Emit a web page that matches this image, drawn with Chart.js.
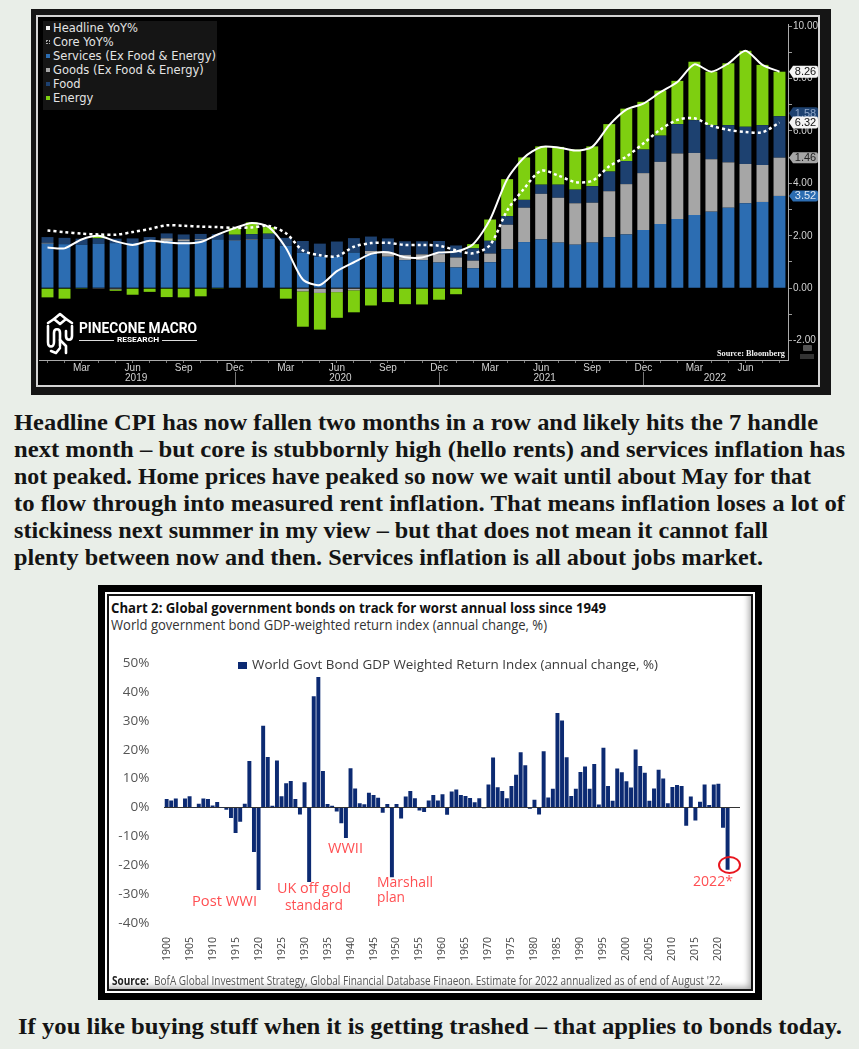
<!DOCTYPE html>
<html>
<head>
<meta charset="utf-8">
<script src="https://cdn.jsdelivr.net/npm/chart.js@4.4.0/dist/chart.umd.min.js"></script>
<style>
  body { margin:0; width:859px; height:1049px; background:#e9eee8; position:relative; overflow:hidden; }
  .abs { position:absolute; }
  .fit { display:inline-block; white-space:nowrap; transform-origin:0 50%; }
  #cpiOuter { left:31px; top:9px; width:800px; height:386px; background:#151515; }
  #cpiBorder { left:36px; top:15px; width:784px; height:372px; box-sizing:border-box; border:2px solid #d4d4d4; background:#000; }
  #cpiLegend { left:43px; top:21px; width:174px; height:89px; background:#151515; font:11.5px 'DejaVu Sans', sans-serif; color:#e4e4e4; line-height:14px; }
  #cpiLegend div { position:relative; padding-left:10px; height:14px; }
  #cpiLegend i { position:absolute; left:3px; top:5px; width:4px; height:4px; }
  .para { left:14px; font:bold 24px 'Liberation Serif', serif; line-height:27px; color:#141414; }
  #bofaOuter { left:98px; top:585px; width:664px; height:415px; background:#000; }
  #bofaRing { left:105px; top:592px; width:650px; height:401px; background:#fff; }
  #bofaInner { left:107px; top:594px; width:646px; height:397px; box-sizing:border-box; border:2px solid #151515; background:#fff; box-shadow: inset -5px -5px 6px -3px rgba(0,0,0,0.35); }
  .bofa { font-family:'Open Sans', sans-serif; line-height:1; }
  .note { font-family:'Open Sans', sans-serif; font-size:14.5px; line-height:1; color:#ff4f52; }
</style>
</head>
<body>

<!-- Chart 1: CPI contributions -->
<div id="cpiOuter" class="abs"></div>
<div id="cpiBorder" class="abs"></div>
<canvas id="cpiChart" class="abs" style="left:38px;top:17px" width="780" height="368"></canvas>

<div id="cpiLegend" class="abs">
  <div><i style="background:#f0f0f0"></i>Headline YoY%</div>
  <div><i style="border:1px dotted #aaa;width:2px;height:2px"></i>Core YoY%</div>
  <div><i style="background:#2c6db2"></i>Services (Ex Food &amp; Energy)</div>
  <div><i style="background:#a6a6a6"></i>Goods (Ex Food &amp; Energy)</div>
  <div><i style="background:#1d4170"></i>Food</div>
  <div><i style="background:#7ecf10"></i>Energy</div>
</div>

<svg class="abs" style="left:44px;top:311px" width="32" height="45" viewBox="0 0 32 45">
  <g fill="none" stroke="#fff" stroke-width="2.6" stroke-linejoin="round" stroke-linecap="round">
    <path d="M16 3 L22 8 L16 13 L10 8 Z"/>
    <path d="M4 12 L10 8 M28 12 L22 8"/>
    <path d="M4 15 L4 31 C4 37 10 37 10 31 L10 22 C10 17 16 17 16 22 L16 35"/>
    <path d="M28 15 L28 25 C28 30 22 30 22 25 L22 20"/>
    <path d="M16 29 L22 35 L22 42 M16 37 L12 42 L7 40"/>
  </g>
</svg>
<div class="abs" style="left:79px;top:321px;font:bold 14px Roboto,sans-serif;line-height:1;color:#fff"><span class="fit" data-fit="118">PINECONE MACRO</span></div>
<div class="abs" style="left:79px;top:340px;width:35px;height:1px;background:#ddd"></div>
<div class="abs" style="left:162px;top:340px;width:35px;height:1px;background:#ddd"></div>
<div class="abs" style="left:117px;top:336px;font:bold 8px Roboto,sans-serif;line-height:1;color:#fff"><span class="fit" data-fit="42">RESEARCH</span></div>
<div class="abs" style="left:717px;top:349px;font:bold 9px 'Liberation Serif',serif;line-height:1;color:#f2f2f2"><span class="fit" data-fit="68">Source: Bloomberg</span></div>
<div class="abs" style="left:803px;top:345px;width:9px;height:6px;background:#555;border-radius:1px"></div>
<div class="abs" style="left:800px;top:354px;width:14px;height:5px;background:#333"></div>

<!-- Commentary -->
<div class="abs para" style="top:409px">
  <div><span class="fit" data-fit="804">Headline CPI has now fallen two months in a row and likely hits the 7 handle</span></div>
  <div><span class="fit" data-fit="831">next month – but core is stubbornly high (hello rents) and services inflation has</span></div>
  <div><span class="fit" data-fit="797">not peaked. Home prices have peaked so now we wait until about May for that</span></div>
  <div><span class="fit" data-fit="831">to flow through into measured rent inflation. That means inflation loses a lot of</span></div>
  <div><span class="fit" data-fit="754">stickiness next summer in my view – but that does not mean it cannot fall</span></div>
  <div><span class="fit" data-fit="749">plenty between now and then. Services inflation is all about jobs market.</span></div>
</div>

<!-- Chart 2: global government bonds -->
<div id="bofaOuter" class="abs"></div>
<div id="bofaRing" class="abs"></div>
<div id="bofaInner" class="abs"></div>
<div class="abs bofa" style="left:111px;top:601px;font-size:14px;font-weight:bold;color:#111"><span class="fit" data-fit="495">Chart 2: Global government bonds on track for worst annual loss since 1949</span></div>
<div class="abs bofa" style="left:111px;top:618px;font-size:14px;color:#333"><span class="fit" data-fit="436">World government bond GDP-weighted return index (annual change, %)</span></div>
<canvas id="bondChart" class="abs" style="left:104px;top:640px" width="650" height="345"></canvas>
<div class="abs" style="left:238px;top:662px;width:9px;height:7px;background:#0c2a72"></div>
<div class="abs bofa" style="left:252px;top:658px;font-size:13px;color:#3a3a3a"><span class="fit" data-fit="406">World Govt Bond GDP Weighted Return Index (annual change, %)</span></div>

<div class="abs note" style="left:192px;top:894px"><span class="fit" data-fit="65">Post WWI</span></div>
<div class="abs note" style="left:277px;top:881px"><span class="fit" data-fit="74">UK off gold</span></div>
<div class="abs note" style="left:285px;top:898px"><span class="fit" data-fit="58">standard</span></div>
<div class="abs note" style="left:328px;top:841px"><span class="fit" data-fit="35">WWII</span></div>
<div class="abs note" style="left:377px;top:875px"><span class="fit" data-fit="56">Marshall</span></div>
<div class="abs note" style="left:377px;top:890px"><span class="fit" data-fit="28">plan</span></div>
<div class="abs note" style="left:693px;top:874px"><span class="fit" data-fit="40">2022*</span></div>
<div class="abs" style="left:718px;top:856px;width:19px;height:14px;border:2.5px solid #e8161e;border-radius:50%"></div>

<div class="abs bofa" style="left:112px;top:975px;font-size:12px;color:#555"><span class="fit" data-fit="611"><b style="color:#222">Source:</b>&nbsp; BofA Global Investment Strategy, Global Financial Database Finaeon. Estimate for 2022 annualized as of end of August '22.</span></div>

<div class="abs para" style="top:1013px;left:18px"><span class="fit" data-fit="824">If you like buying stuff when it is getting trashed – that applies to bonds today.</span></div>

<script>
// ---- CPI contributions, Jan 2019 – Aug 2022 (pp) ----
const monthNames = ['Jan','Feb','Mar','Apr','May','Jun','Jul','Aug','Sep','Oct','Nov','Dec'];
const months = [];
for (let yr = 2019; yr <= 2022; yr++)
  for (let m = 0; m < 12; m++)
    if (yr < 2022 || m < 8) months.push(monthNames[m] + ' ' + yr);

const services = [1.70,1.68,1.66,1.70,1.72,1.72,1.76,1.80,1.78,1.82,1.86,1.82,
                  1.84,1.88,1.62,1.35,1.20,1.20,1.36,1.30,1.20,1.07,1.07,0.98,
                  0.79,0.76,0.99,1.49,1.76,1.86,1.74,1.66,1.74,1.95,2.05,2.22,
                  2.45,2.64,2.79,2.92,3.07,3.24,3.29,3.52];
const goods    = [0.03,0.00,0.00,-0.03,-0.05,0.00,0.02,0.10,0.08,0.05,0.00,0.02,
                  0.02,0.00,0.00,-0.12,-0.18,-0.15,-0.08,0.12,0.15,0.20,0.22,0.32,
                  0.38,0.29,0.33,0.93,1.31,1.74,1.71,1.58,1.52,1.75,1.92,2.17,
                  2.37,2.50,2.37,2.00,1.73,1.50,1.41,1.46];
const food     = [0.22,0.24,0.23,0.20,0.17,0.18,0.17,0.19,0.19,0.20,0.20,0.20,
                  0.20,0.20,0.30,0.45,0.50,0.58,0.55,0.55,0.55,0.52,0.50,0.50,
                  0.46,0.47,0.49,0.33,0.30,0.35,0.50,0.52,0.63,0.75,0.88,0.90,
                  1.00,1.12,1.25,1.30,1.42,1.42,1.52,1.58];
const energy   = [-0.35,-0.40,-0.03,0.12,-0.05,-0.25,-0.14,-0.34,-0.35,-0.31,-0.01,0.25,
                  0.45,0.25,-0.40,-1.35,-1.40,-0.98,-0.84,-0.66,-0.53,-0.61,-0.62,-0.44,
                  -0.23,0.16,0.81,1.41,1.62,1.46,1.44,1.53,1.52,1.81,2.00,1.82,
                  1.72,1.65,2.23,2.04,2.36,2.90,2.30,1.70];
const headline = [1.55,1.52,1.86,2.00,1.79,1.65,1.81,1.75,1.71,1.76,2.05,2.29,
                  2.49,2.33,1.54,0.33,0.12,0.65,0.99,1.31,1.37,1.18,1.17,1.36,
                  1.40,1.68,2.62,4.16,4.99,5.39,5.37,5.25,5.39,6.22,6.81,7.04,
                  7.48,7.87,8.54,8.26,8.58,9.06,8.52,8.26];
const core     = [2.20,2.14,2.08,2.05,2.04,2.14,2.26,2.40,2.38,2.35,2.33,2.30,
                  2.32,2.37,2.10,1.44,1.26,1.22,1.58,1.72,1.73,1.65,1.65,1.62,
                  1.45,1.33,1.65,2.96,3.80,4.48,4.30,4.05,4.10,4.65,5.02,5.52,
                  6.05,6.42,6.48,6.20,6.04,5.96,5.95,6.32];
const cpiTicks = [-2,-1,0,1,2,3,4,5,6,7,8,9,10];

// ---- World govt bond GDP-weighted return index, annual change %, 1900 – 2022 ----
const years = [];
for (let yr = 1900; yr <= 2022; yr++) years.push(yr);
const bondReturns = [
   2.9,  2.4,  3.1,  0.2,  3.1,  3.9,  0.1,  1.3,  3.1,  2.9,   // 1900s
   0.7,  1.9,  0.1, -0.8, -3.6, -8.8, -4.9,  1.3, 16.1,-15.4,   // 1910s
 -28.6, 28.3, 17.5,  0.6, 16.3,  3.9,  8.4,  9.2,  2.9, -2.4,   // 1920s
   8.7,-25.8, 38.5, 45.2, 12.6,  1.2,  0.6, -1.4, -5.5,-10.6,   // 1930s
  13.6,  6.6,  1.5,  1.1,  5.1,  4.3,  3.4, -1.8,  1.2,-24.2,   // 1940s
   1.2, -3.8,  3.8,  5.7,  3.2, -1.0, -1.6,  2.4,  4.3,  2.4,   // 1950s
   4.6, -2.5,  5.5,  6.2,  4.3,  4.0,  3.3,  1.8,  3.2, -0.3,   // 1960s
   8.0, 17.3,  7.0,  5.7,  3.2,  7.4, 11.3, 19.1, 14.6, -0.4,   // 1970s
   2.7, -2.4, 19.5,  3.5,  6.5, 32.7, 30.1, 17.4,  4.0,  6.5,   // 1980s
  12.3, 14.2,  6.5, 15.1,  1.0, 20.7,  7.4,  2.3, 13.5, 12.2,   // 1990s
   9.1,  6.9, 20.1, 14.4, 12.0,  2.3,  6.6, 13.1, 10.0,  1.5,   // 2000s
   7.1,  7.8,  7.4, -6.3,  3.8, -4.5,  2.0,  8.0,  0.9,  8.0,   // 2010s
   8.2, -7.0,-21.6                                              // 2020s
];

// squeeze text to the reference widths
document.querySelectorAll('.fit').forEach(el => {
  const w = +el.dataset.fit;
  el.style.transform = 'scaleX(' + (w / el.getBoundingClientRect().width) + ')';
});

// ---------- chart 1 ----------
const axisFont = {family: "'Liberation Sans', sans-serif", size: 10};

function drawTag(ctx, x0, yc, w, h, bg, fg, text) {
  ctx.beginPath();
  ctx.moveTo(x0, yc);
  ctx.lineTo(x0 + 4, yc - h / 2);
  ctx.lineTo(x0 + w - 2, yc - h / 2);
  ctx.quadraticCurveTo(x0 + w, yc - h / 2, x0 + w, yc - h / 2 + 2);
  ctx.lineTo(x0 + w, yc + h / 2 - 2);
  ctx.quadraticCurveTo(x0 + w, yc + h / 2, x0 + w - 2, yc + h / 2);
  ctx.lineTo(x0 + 4, yc + h / 2);
  ctx.closePath();
  ctx.fillStyle = bg;
  ctx.fill();
  ctx.fillStyle = fg;
  ctx.textAlign = 'center';
  ctx.textBaseline = 'middle';
  ctx.fillText(text, x0 + w / 2 + 2, yc + 0.5);
}

const cpiDecor = {
  id: 'cpiDecor',
  afterDraw(chart) {
    const {ctx, chartArea} = chart;
    const x = chart.scales.x, y = chart.scales.y;
    ctx.save();
    // year labels + separators
    ctx.font = "10px 'Liberation Sans', sans-serif";
    ctx.fillStyle = '#d2d2d2';
    ctx.strokeStyle = '#777';
    ctx.lineWidth = 1;
    ctx.textAlign = 'center';
    ctx.textBaseline = 'middle';
    ['2019', '2020', '2021', '2022'].forEach(yr => {
      const idx = [];
      months.forEach((m, i) => { if (m.endsWith(yr)) idx.push(i); });
      const first = x.getPixelForValue(idx[0]);
      const last = x.getPixelForValue(idx[idx.length - 1]);
      ctx.fillText(yr, (first + last) / 2 - 5, chartArea.bottom + 18);
      if (idx.length === 12) {
        const sx = Math.round(last) + 0.5;
        ctx.beginPath();
        ctx.moveTo(sx, chartArea.bottom + 12);
        ctx.lineTo(sx, chartArea.bottom + 25);
        ctx.stroke();
      }
    });
    // last-value tags on the right axis
    const n = headline.length - 1;
    const x0 = chartArea.right + 1;
    ctx.font = "11px 'Liberation Sans', sans-serif";
    drawTag(ctx, x0, y.getPixelForValue(services[n] + goods[n] + food[n]) - 3, 29, 12, '#1d4170', '#8fa7c9', food[n].toFixed(2));
    drawTag(ctx, x0, y.getPixelForValue(core[n]), 29, 12, '#f4f4f4', '#111', core[n].toFixed(2));
    drawTag(ctx, x0, y.getPixelForValue(headline[n]), 29, 12, '#f4f4f4', '#111', headline[n].toFixed(2));
    drawTag(ctx, x0, y.getPixelForValue(services[n] + goods[n]), 29, 11, '#a6a6a6', '#222', goods[n].toFixed(2));
    drawTag(ctx, x0, y.getPixelForValue(services[n]), 29, 11, '#2c6db2', '#dfe8f4', services[n].toFixed(2));
    ctx.restore();
  }
};

new Chart(document.getElementById('cpiChart'), {
  type: 'bar',
  data: {
    labels: months,
    datasets: [
      {type: 'line', label: 'Headline YoY%', data: headline, borderColor: '#ffffff', borderWidth: 2,
       pointRadius: 0, tension: 0.25, stack: 'headline', order: 0},
      {type: 'line', label: 'Core YoY%', data: core, borderColor: '#ffffff', borderWidth: 2.5,
       borderDash: [3, 3], pointRadius: 0, tension: 0.3, stack: 'core', order: 0},
      {label: 'Services (Ex Food & Energy)', data: services, backgroundColor: '#2c6db2', stack: 'cpi', order: 1},
      {label: 'Goods (Ex Food & Energy)', data: goods, backgroundColor: '#a6a6a6', stack: 'cpi', order: 1},
      {label: 'Food', data: food, backgroundColor: '#1d4170', stack: 'cpi', order: 1},
      {label: 'Energy', data: energy, backgroundColor: '#7ecf10', stack: 'cpi', order: 1}
    ]
  },
  options: {
    responsive: false,
    animation: false,
    barPercentage: 0.7,
    categoryPercentage: 1,
    layout: {padding: {left: 1, top: 1}},
    plugins: {legend: {display: false}, tooltip: {enabled: false}},
    scales: {
      x: {
        stacked: true,
        grid: {display: true, drawOnChartArea: false, offset: false, tickLength: 3, color: '#777'},
        border: {color: '#aaa'},
        ticks: {autoSkip: false, maxRotation: 0, padding: -1, color: '#d2d2d2', font: axisFont,
                callback: (v, i) => (i % 3 === 2 ? monthNames[i % 12] : '')},
        afterFit: s => { s.height = 25; }
      },
      y: {
        position: 'right',
        stacked: true,
        min: -2.74,
        max: 10.08,
        afterBuildTicks: s => { s.ticks = cpiTicks.map(v => ({value: v})); },
        grid: {drawOnChartArea: false, tickLength: 4, color: '#999'},
        border: {color: '#aaa'},
        ticks: {padding: 1, color: '#d2d2d2', font: axisFont,
                callback: v => (v % 2 === 0 ? v.toFixed(2) : '')},
        afterFit: s => { s.width = 30; }
      }
    }
  },
  plugins: [cpiDecor]
});

// ---------- chart 2 ----------
new Chart(document.getElementById('bondChart'), {
  type: 'bar',
  data: {
    datasets: [{
      label: 'World Govt Bond GDP Weighted Return Index (annual change, %)',
      data: years.map((yr, i) => ({x: yr, y: bondReturns[i]})),
      backgroundColor: '#0c2a72',
      barPercentage: 0.86,
      categoryPercentage: 1
    }]
  },
  options: {
    responsive: false,
    animation: false,
    layout: {padding: {top: 17.6, right: 14}},
    plugins: {legend: {display: false}, tooltip: {enabled: false}},
    scales: {
      x: {
        type: 'linear',
        offset: false,
        min: 1899.5,
        max: 2024.7,
        grid: {display: false},
        border: {display: false},
        ticks: {stepSize: 5, includeBounds: false, maxTicksLimit: 100, autoSkip: false,
                minRotation: 90, maxRotation: 90, padding: 6, color: '#444',
                font: {family: "'Open Sans', sans-serif", size: 10.5},
                callback: v => (Math.round(v) % 5 === 0 ? String(Math.round(v)) : '')},
        afterFit: s => { s.height = 62; }
      },
      y: {
        min: -40,
        max: 50,
        grid: {drawTicks: false, color: c => (c.tick.value === 0 ? '#333' : 'rgba(0,0,0,0)')},
        border: {display: false},
        ticks: {stepSize: 10, padding: 15, color: '#555',
                font: {family: "'Open Sans', sans-serif", size: 13.5},
                callback: v => v + '%'},
        afterFit: s => { s.width = 60.3; }
      }
    }
  }
});
</script>
</body>
</html>
